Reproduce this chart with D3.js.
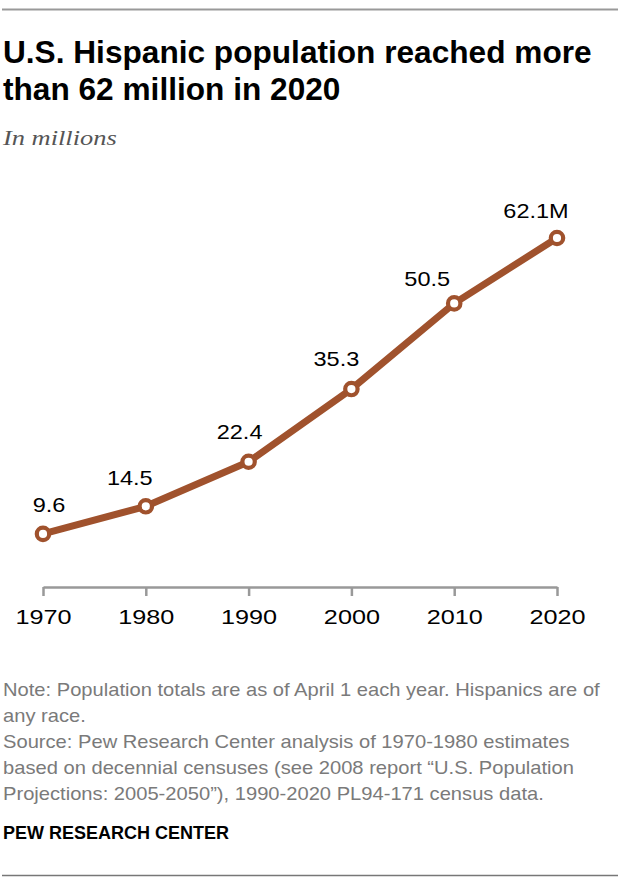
<!DOCTYPE html>
<html>
<head>
<meta charset="utf-8">
<script src="https://cdn.jsdelivr.net/npm/d3@7"></script>
<style>
  html, body { margin: 0; padding: 0; background: #fff; }
  svg { display: block; }
</style>
</head>
<body>
<svg id="chart" width="620" height="884"></svg>
<script>
const years = [1970, 1980, 1990, 2000, 2010, 2020];
const population = [9.6, 14.5, 22.4, 35.3, 50.5, 62.1];
const valueLabels = ["9.6", "14.5", "22.4", "35.3", "50.5", "62.1M"];
const tickLabels = ["1970", "1980", "1990", "2000", "2010", "2020"];

const titleLines = ["U.S. Hispanic population reached more", "than 62 million in 2020"];
const subtitle = "In millions";
const noteLines = [
  "Note: Population totals are as of April 1 each year. Hispanics are of",
  "any race.",
  "Source: Pew Research Center analysis of 1970-1980 estimates",
  "based on decennial censuses (see 2008 report \u201cU.S. Population",
  "Projections: 2005-2050\u201d), 1990-2020 PL94-171 census data."
];
const credit = "PEW RESEARCH CENTER";

// label nudges (placement only)
const labelDx = [6, -16, -9, -15, -27, -21];
const labelDy = [-22, -21, -23, -23, -17, -20];

const data = years.map((y, i) => ({ year: y, value: population[i], label: valueLabels[i] }));

const svg = d3.select("#chart");
const lineColor = "#a0522d";
const sans = "'Liberation Sans', Arial, sans-serif";

// horizontally stretch/compress text by a factor
function stretch(sel, f) {
  sel.each(function () {
    const w = this.getComputedTextLength();
    this.setAttribute("textLength", w * f);
    this.setAttribute("lengthAdjust", "spacingAndGlyphs");
  });
}

// top and bottom rules
svg.append("line").attr("x1", 2).attr("x2", 618).attr("y1", 9.5).attr("y2", 9.5)
  .attr("stroke", "#999").attr("stroke-width", 2);
svg.append("line").attr("x1", 2).attr("x2", 618).attr("y1", 875.5).attr("y2", 875.5)
  .attr("stroke", "#777").attr("stroke-width", 1.5);

// title
const title = svg.append("g").selectAll("text").data(titleLines).join("text")
  .attr("x", 3).attr("y", (d, i) => 63 + i * 37)
  .attr("font-family", sans).attr("font-weight", "bold").attr("font-size", 31)
  .attr("fill", "#000").text(d => d);
stretch(title, 1.02);

const sub = svg.append("text").attr("x", 3).attr("y", 145)
  .attr("font-family", "'Liberation Serif', 'DejaVu Serif', serif").attr("font-style", "italic")
  .attr("font-size", 22).attr("fill", "#555").text(subtitle);
stretch(sub, 1.2);

// scales
const x = d3.scaleLinear().domain([d3.min(years), d3.max(years)]).range([43, 557]);
const y = d3.scaleLinear().domain([0, d3.max(population)]).range([588, 238]);

// axis
const axis = d3.axisBottom(x).tickValues(years).tickFormat((d, i) => tickLabels[i])
  .tickSize(9).tickSizeOuter(0).tickPadding(13);
const gx = svg.append("g").attr("transform", `translate(0,${y(0) - 1})`).call(axis);
gx.select(".domain").attr("stroke", "#999").attr("stroke-width", 2.5);
gx.selectAll(".tick line").attr("stroke", "#999").attr("stroke-width", 2.5);
const tickText = gx.selectAll(".tick text").attr("font-family", sans)
  .attr("font-size", 21).attr("fill", "#000");
stretch(tickText, 1.2);

// line
const line = d3.line().x(d => x(d.year)).y(d => y(d.value));
svg.append("path").datum(data).attr("d", line)
  .attr("fill", "none").attr("stroke", lineColor).attr("stroke-width", 7)
  .attr("stroke-linejoin", "round").attr("stroke-linecap", "round");

svg.append("g").selectAll("circle").data(data).join("circle")
  .attr("cx", d => x(d.year)).attr("cy", d => y(d.value)).attr("r", 6.2)
  .attr("fill", "#fff").attr("stroke", lineColor).attr("stroke-width", 4.2);

const labels = svg.append("g").selectAll("text").data(data).join("text")
  .attr("x", (d, i) => x(d.year) + labelDx[i]).attr("y", (d, i) => y(d.value) + labelDy[i])
  .attr("text-anchor", "middle")
  .attr("font-family", sans).attr("font-size", 21)
  .attr("fill", "#000").text(d => d.label);
stretch(labels, 1.12);

// notes
const notes = svg.append("g").selectAll("text").data(noteLines).join("text")
  .attr("x", 3).attr("y", (d, i) => 696 + i * 26)
  .attr("font-family", sans).attr("font-size", 19).attr("fill", "#7a7a7a").text(d => d);
stretch(notes, 1.06);

const cr = svg.append("text").attr("x", 3).attr("y", 839)
  .attr("font-family", sans).attr("font-weight", "bold").attr("font-size", 18)
  .attr("fill", "#000").text(credit);
stretch(cr, 1.0);
</script>
</body>
</html>
